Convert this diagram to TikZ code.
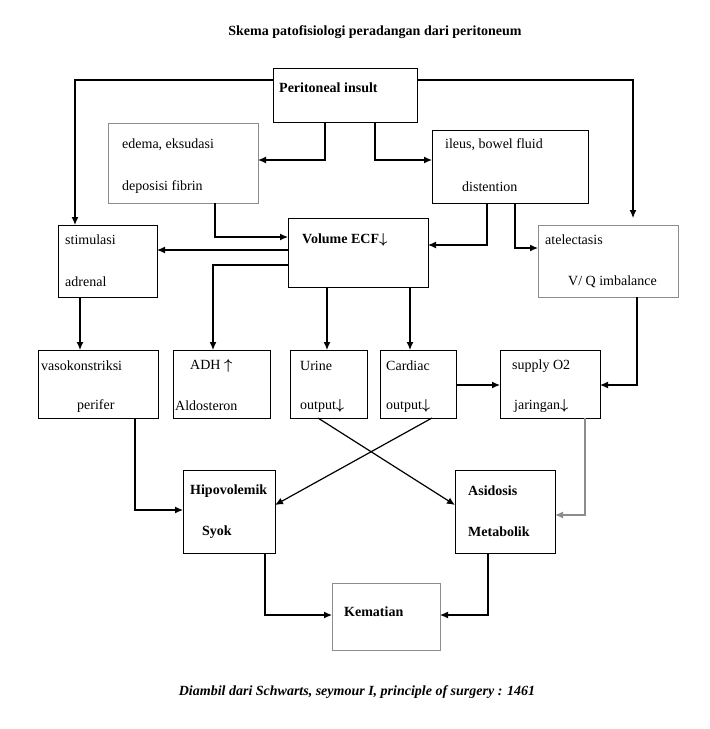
\documentclass[tikz,border=0pt]{standalone}
\usepackage{amsmath}
\usepackage{fontspec}
\setmainfont{Liberation Serif}
\usetikzlibrary{arrows.meta}
\newcommand{\dn}{$\boldsymbol{\downarrow}$}
\newcommand{\up}{$\boldsymbol{\uparrow}$}
\begin{document}
\begin{tikzpicture}[x=1pt,y=-1pt,
  bx/.style={draw=black,line width=1pt,fill=white},
  gbx/.style={draw=black!45,line width=1pt,fill=white},
  t/.style={font=\fontsize{14}{16}\selectfont,anchor=west,inner sep=0pt},
  tb/.style={font=\bfseries\fontsize{14}{16}\selectfont,anchor=west,inner sep=0pt},
  a/.style={-{Latex[length=8pt,width=7pt]},line width=1.2pt},
  ga/.style={-{Latex[length=8pt,width=7pt]},line width=1.2pt,black!45}]
\useasboundingbox (0,0) rectangle (710,729);
\node[font=\bfseries\fontsize{14}{16}\selectfont] (title) at (375,32) {Skema patofisiologi peradangan dari peritoneum};
% boxes
\draw[bx] (273,68) rectangle (417,122); \node[tb] (pi) at (279,88) {Peritoneal insult};
\draw[gbx] (108,123) rectangle (258,203);
\node[t] (ed1) at (122,145) {edema, eksudasi}; \node[t] (ed2) at (122,187) {deposisi fibrin};
\draw[bx] (432,130) rectangle (588,203);
\node[t] (il1) at (445,145) {ileus, bowel fluid}; \node[t] (il2) at (462,187) {distention};
\draw[bx] (288,218) rectangle (428,287);
\node[tb] (ecf) at (302,240) {Volume ECF\dn};
\draw[bx] (58,225) rectangle (157,297);
\node[t] (st1) at (65,240) {stimulasi}; \node[t] (st2) at (65,282) {adrenal};
\draw[gbx] (538,225) rectangle (678,297);
\node[t] (at1) at (545,240) {atelectasis}; \node[t] (at2) at (568,282) {V/ Q imbalance};
\draw[bx] (38,350) rectangle (158,418);
\node[t] (va1) at (41,366) {vasokonstriksi}; \node[t] (va2) at (77,406) {perifer};
\draw[bx] (173,350) rectangle (270,418);
\node[t] (ad1) at (190,366) {ADH \up}; \node[t] (ad2) at (175,406) {Aldosteron};
\draw[bx] (290,350) rectangle (367,418);
\node[t] (ur1) at (300,366) {Urine}; \node[t] (ur2) at (300,406) {output\dn};
\draw[bx] (380,350) rectangle (456,418);
\node[t] (ca1) at (386,366) {Cardiac}; \node[t] (ca2) at (386,406) {output\dn};
\draw[bx] (500,350) rectangle (600,418);
\node[t] (su1) at (512,366) {supply O2}; \node[t] (su2) at (514,406) {jaringan\dn};
\draw[bx] (183,470) rectangle (275,553);
\node[tb] (hi1) at (190,491) {Hipovolemik}; \node[tb] (hi2) at (202,532) {Syok};
\draw[bx] (455,470) rectangle (555,553);
\node[tb] (as1) at (468,491) {Asidosis}; \node[tb] (as2) at (468,532) {Metabolik};
\draw[gbx] (332,583) rectangle (440,650);
\node[tb] (ke) at (344,612) {Kematian};
% arrows
\draw[a] (273,80) -| (75,225);
\draw[a] (417,80) -| (633,218);
\draw[a] (325,122) |- (258,160);
\draw[a] (375,122) |- (432,160);
\draw[a] (215,203) |- (288,237);
\draw[a] (487,203) |- (428,245);
\draw[a] (515,203) |- (538,248);
\draw[a] (288,250) -- (157,250);
\draw[a] (288,265) -| (213,350);
\draw[a] (327,287) -- (327,350);
\draw[a] (410,287) -- (410,350);
\draw[a] (456,385) -- (500,385);
\draw[a] (637,297) |- (600,385);
\draw[a] (80,297) -- (80,350);
\draw[a] (135,418) |- (183,510);
\draw[ga] (585,418) |- (555,515);
\draw[a] (318,418) -- (455,505);
\draw[a] (432,418) -- (275,505);
\draw[a] (265,553) |- (332,615);
\draw[a] (488,553) |- (440,615);
\node[font=\bfseries\itshape\fontsize{14}{16}\selectfont] (foot) at (357,692) {Diambil dari Schwarts, seymour I, principle of surgery : 1461};
\end{tikzpicture}
\end{document}
